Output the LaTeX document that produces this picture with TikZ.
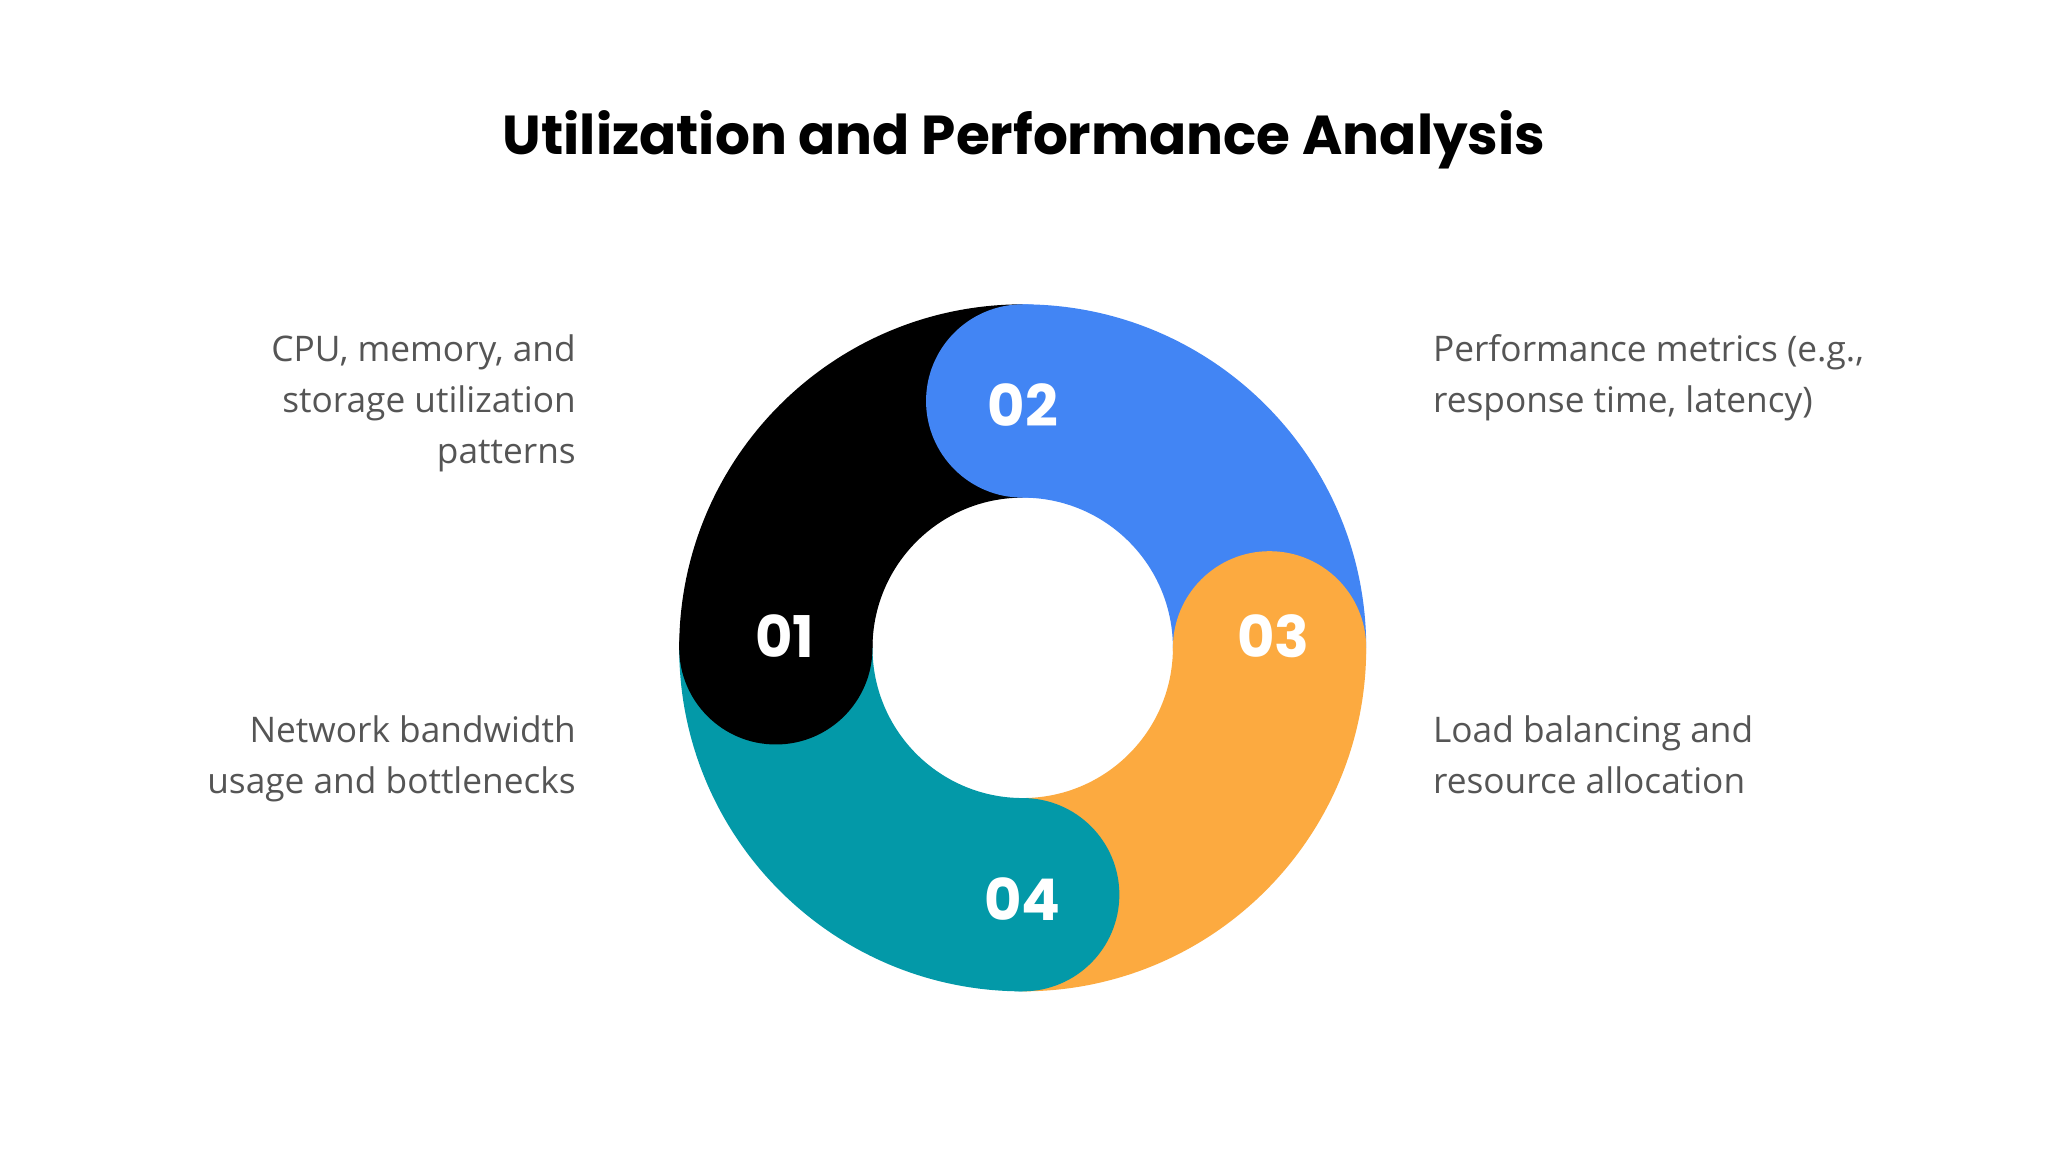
\documentclass[tikz,border=0pt]{standalone}
\usepackage{fontspec}
\setmainfont{Open Sans}
\newfontfamily\pop{Poppins}
\definecolor{cblue}{HTML}{4285F4}
\definecolor{corange}{HTML}{FCAA40}
\definecolor{cteal}{HTML}{0399A8}
\definecolor{cgray}{HTML}{555555}
\begin{document}
\begin{tikzpicture}[x=1pt,y=1pt,
  num/.style={text=white,font=\pop\bfseries\fontsize{44}{44}\selectfont},
  lbl/.style={text=cgray,font=\fontsize{27}{39}\selectfont,inner sep=0pt}]
\useasboundingbox[fill=white] (0,0) rectangle (1568,-882);
\node[font=\pop\bfseries\fontsize{42}{42}\selectfont] (title) at (784,-107) {Utilization and Performance Analysis};
\begin{scope}[shift={(783,-496)}]
\fill[cblue] (0:263) arc (0:90:263) -- (90:115) arc (90:0:115) -- cycle;
\fill[black] (90:263) arc (90:180:263) -- (180:115) arc (180:90:115) -- cycle;
\fill[cteal] (180:263) arc (180:270:263) -- (270:115) arc (270:180:115) -- cycle;
\fill[corange] (270:263) arc (270:360:263) -- (0:115) arc (360:270:115) -- cycle;
\fill[cblue] (90:189) circle (74);
\fill[black] (180:189) circle (74);
\fill[cteal] (270:189) circle (74);
\fill[corange] (0:189) circle (74);
\end{scope}
\node[num] (n1) at (601,-487) {01};
\node[num] (n2) at (783,-310) {02};
\node[num] (n3) at (975,-487) {03};
\node[num] (n4) at (783,-688) {04};
\node[lbl,anchor=north east,align=right] (t1) at (441,-256) {CPU, memory, and\\storage utilization\\patterns};
\node[lbl,anchor=north west,align=left] (t2) at (1097,-256) {Performance metrics (e.g.,\\response time, latency)};
\node[lbl,anchor=north east,align=right] (t4) at (441,-548) {Network bandwidth\\usage and bottlenecks};
\node[lbl,anchor=north west,align=left] (t3) at (1097,-548) {Load balancing and\\resource allocation};
\end{tikzpicture}
\end{document}
